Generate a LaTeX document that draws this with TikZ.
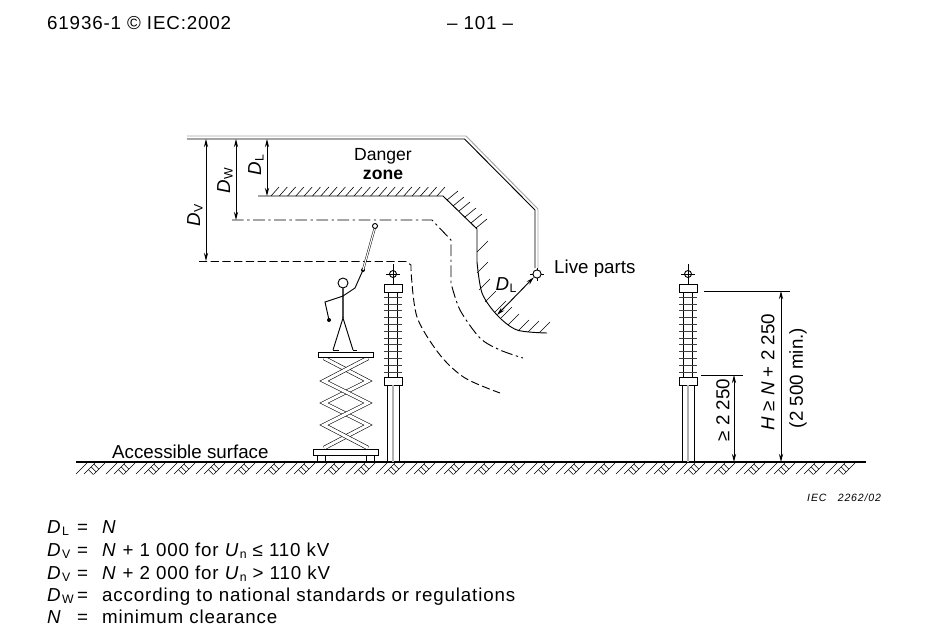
\documentclass[tikz,border=0pt]{standalone}
\usepackage{fontspec}
\setmainfont{Liberation Sans}
\newfontfamily\keyfont[LetterSpace=4.5]{Liberation Sans}
\newfontfamily\reffont[LetterSpace=8]{Liberation Sans}
\usetikzlibrary{arrows.meta}
\newcommand{\dsub}[2]{\textit{#1}\kern0.5pt\raisebox{-0.25ex}{\fontsize{10.5}{11}\selectfont #2}}
\tikzset{
  thinline/.style={line width=0.8pt},
  hatchline/.style={line width=0.5pt},
  dimline/.style={line width=0.8pt,{Stealth[length=7pt,width=3.6pt]}-{Stealth[length=7pt,width=3.6pt]}},
  txt/.style={font=\fontsize{16}{18}\selectfont,inner sep=0pt,anchor=base west},
  keytxt/.style={font=\fontsize{16}{18}\selectfont\keyfont,inner sep=0pt,anchor=base west},
  ctxt/.style={font=\fontsize{16}{18}\selectfont,inner sep=0pt},
}
\begin{document}
\begin{tikzpicture}[x=0.03cm,y=-0.03cm]
    \useasboundingbox (0,0) rectangle (927,630);
    % header
    \node[keytxt] (hdrleft) at (47,29) {61936-1 © IEC:2002};
    \node[keytxt] (hdrpage) at (447,29) {– 101 –};
    % live conductor
    \draw[thinline,gray!70] (187,136) -- (466,136) -- (538,209) -- (538,268);
    \draw[thinline] (187,139) -- (464.5,139) -- (535,210) -- (535,268);
    % danger zone boundary and hatching
    \draw[thinline] (258,196) -- (443,196) -- (477,229) -- (477,262)
        -- plot[smooth] coordinates {(477,262) (482,293) (497,315) (517,330) (547,333)};
    \foreach \xa in {271,279.3,...,440} \draw[hatchline] (\xa,196) -- +(8,-9);
    \foreach \xa/\ya in {447/200,453/206,459/211,465/217,471/223,476/228}
        \draw[hatchline] (\xa,\ya) -- +(11,-9);
    \foreach \xa/\ya in {477/252,477/273,479/290,485/302,495/312,501/318,508/325,518/331,528/332,539/333}
        \draw[hatchline] (\xa,\ya) -- +(11,-11);
    % limits of the working zones
    \draw[thinline,dash pattern=on 10pt off 3pt on 2pt off 3pt] (232,220) -- (432,220) -- (451,240) -- (451,283)
        -- plot[smooth] coordinates {(451,283) (460,310) (480,338) (500,350) (523,358)};
    \draw[thinline,dash pattern=on 7pt off 3pt] (199,261.5) -- (406,261.5) -- (411,265) -- (411,270)
        -- plot[smooth] coordinates {(411,270) (417,317) (440,355) (465,378) (500,393)};
    % dimensions from the conductor
    \coordinate (topV) at (206,139);
    \coordinate (botV) at (206,261);
    \coordinate (topW) at (236,139);
    \coordinate (botW) at (236,220);
    \coordinate (topL) at (267,139);
    \coordinate (botL) at (267,196);
    \draw[dimline] (topV) -- (botV);
    \draw[dimline] (topW) -- (botW);
    \draw[dimline] (topL) -- (botL);
    \node[ctxt,rotate=90] (lblV) at (195,215) {\dsub{D}{V}};
    \node[ctxt,rotate=90] (lblW) at (225,181) {\dsub{D}{W}};
    \node[ctxt,rotate=90] (lblL) at (256,165) {\dsub{D}{L}};
    \node[ctxt,font=\fontsize{15}{17}\selectfont] (danger) at (383,156) {Danger};
    \node[ctxt,font=\fontsize{15}{17}\selectfont\bfseries] (zone) at (383,175) {zone};
    % live part
    \draw[thinline] (530,274) -- (544,274) (537,268) -- (537,281);
    \node[circle,draw,fill=white,thinline,minimum size=7pt,inner sep=0pt] (live) at (537,274) {};
    \coordinate (zoneedge) at (497,315);
    \draw[dimline] (zoneedge) -- (live);
    \node[ctxt] (lblLL) at (506,285) {\dsub{D}{L}};
    \node[txt] (lblLive) at (554,273) {Live parts};
    % ground
    \draw[line width=1pt] (76,462) -- (866,462);
    \foreach \xa in {76,106,...,840} {
        \foreach \dx in {0,8,18} \draw[hatchline] (\xa+\dx+11,463) -- (\xa+\dx,474);
        \foreach \t in {9.9,7.1,4.4} \draw[hatchline] (\xa+8+\t,474-\t) -- +(5,5);
    }
    \node[txt] (lblSurface) at (112,458) {Accessible surface};
    % insulators
    \foreach \xa in {393,688} {
        \draw[thinline] (\xa-7,274) -- (\xa+7,274) (\xa,264) -- (\xa,284);
        \draw[thinline] (\xa,274) circle (3.5);
        \draw[thinline] (\xa-4.5,292) -- (\xa-4.5,377) (\xa+4.5,292) -- (\xa+4.5,377);
        \foreach \ya in {297,303.8,...,373} \draw[hatchline,black!75] (\xa-9,\ya) -- (\xa+9,\ya);
        \draw[thinline,fill=white] (\xa-9,284) rectangle (\xa+9,292);
        \draw[thinline,fill=white] (\xa-9,377) rectangle (\xa+9,385);
        \draw[thinline] (\xa-6,385) -- (\xa-6,462) (\xa+6,385) -- (\xa+6,462);
        \draw[line width=1.5pt,gray!60] (\xa,385) -- (\xa,462);
    }
    % scissor lift
    \draw[double,double distance=2.6pt,line width=0.5pt] (324,358) -- (368,381) -- (324,403) -- (368,425) -- (324,448);
    \draw[double,double distance=2.6pt,line width=0.5pt] (368,358) -- (324,381) -- (368,403) -- (324,425) -- (368,448);
    \draw[thinline,fill=white] (318,352) rectangle (373,357);
    \draw[thinline,fill=white] (313,449) rectangle (378,455);
    \draw[thinline] (317,455) rectangle (325,462);
    \draw[thinline] (366,455) rectangle (374,462);
    % person
    \draw[thinline] (343,283) circle (5);
    \draw[line width=0.9pt,black!70] (343,288) -- (343,318);
    \draw[thinline] (333,350) -- (343,318) -- (353,350);
    \draw[thinline] (333,350) -- (339,350) (353,350) -- (357,350);
    \draw[thinline] (363,270) -- (355,288) -- (343,296) -- (325,302) -- (329,320);
    \fill (329,320) circle (2);
    \fill (363,270) circle (2);
    \draw[double,double distance=1pt,line width=0.4pt] (363,270) -- (374.5,229);
    \draw[thinline,fill=white] (375,226) circle (2.5);
    % right hand dimensions
    \coordinate (lineH) at (704,291);
    \coordinate (lineHe) at (790,291);
    \coordinate (lineG) at (701,375);
    \coordinate (lineGe) at (743,375);
    \coordinate (topH) at (781,291);
    \coordinate (botH) at (781,462);
    \coordinate (topG) at (734,375);
    \coordinate (botG) at (734,462);
    \draw[thinline] (lineH) -- (lineHe);
    \draw[thinline] (lineG) -- (lineGe);
    \draw[dimline] (topH) -- (botH);
    \draw[dimline] (topG) -- (botG);
    \node[ctxt,rotate=90] (lblG) at (723,410) {≥ 2 250};
    \node[ctxt,rotate=90] (lblH) at (768,372) {\textit{H} ≥ \textit{N} + 2 250};
    \node[ctxt,rotate=90] (lblMin) at (798,378) {(2 500 min.)};
    \node[txt,font=\fontsize{9}{10}\selectfont\reffont\itshape] (iecref) at (807,501) {IEC\ \ \ 2262/02};
    % key
    \node[keytxt] (keyA) at (47,533) {\dsub{D}{L}};
    \node[keytxt] (eqA) at (77,533) {=};
    \node[keytxt] (valA) at (102,533) {\textit{N}};
    \node[keytxt] (keyB) at (47,556) {\dsub{D}{V}};
    \node[keytxt] (eqB) at (77,556) {=};
    \node[keytxt] (valB) at (102,556) {\textit{N} + 1 000 for \dsub{U}{n} ≤ 110 kV};
    \node[keytxt] (keyC) at (47,579) {\dsub{D}{V}};
    \node[keytxt] (eqC) at (77,579) {=};
    \node[keytxt] (valC) at (102,579) {\textit{N} + 2 000 for \dsub{U}{n} > 110 kV};
    \node[keytxt] (keyD) at (47,601) {\dsub{D}{W}};
    \node[keytxt] (eqD) at (77,601) {=};
    \node[keytxt] (valD) at (102,601) {according to national standards or regulations};
    \node[keytxt] (keyE) at (47,623) {\textit{N}};
    \node[keytxt] (eqE) at (77,623) {=};
    \node[keytxt] (valE) at (102,623) {minimum clearance};
\end{tikzpicture}
\end{document}
